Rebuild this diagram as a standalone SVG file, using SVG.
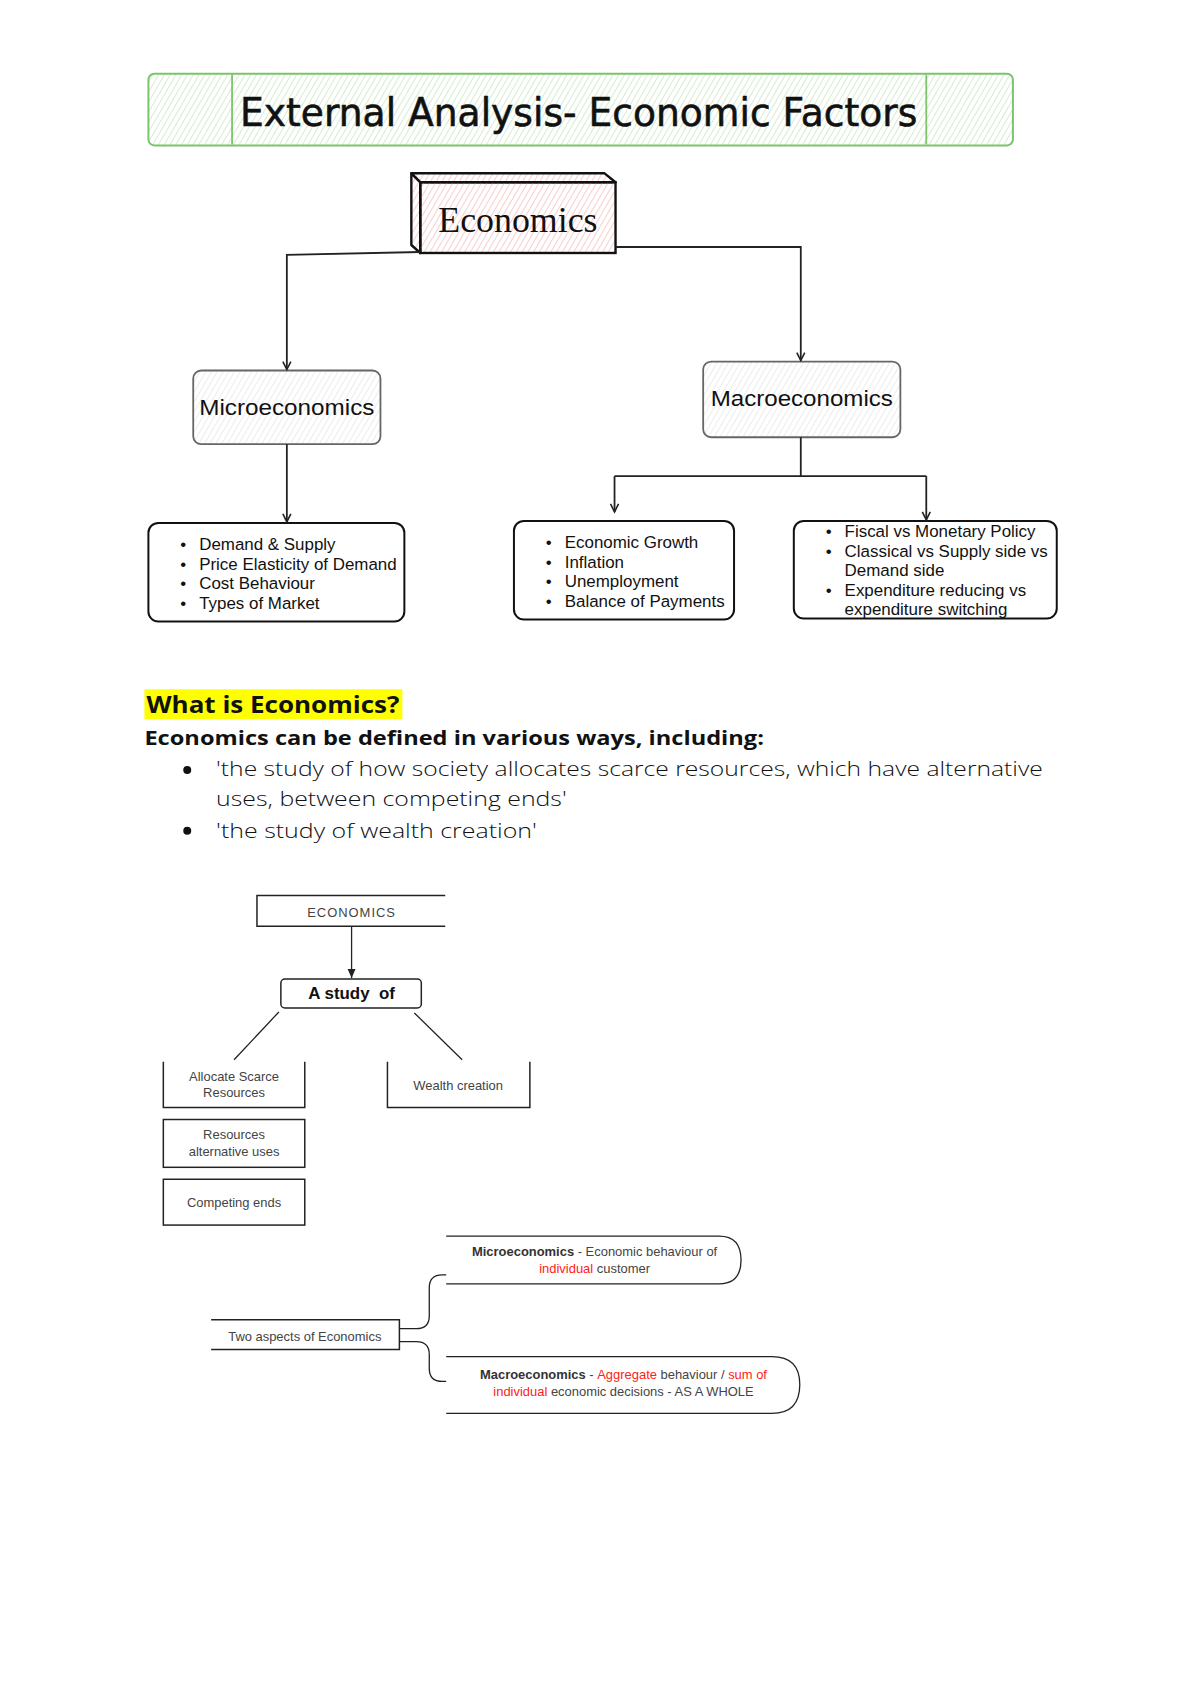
<svg xmlns="http://www.w3.org/2000/svg" width="1200" height="1694" viewBox="0 0 1200 1694">
<defs>
<pattern id="hGreen" width="5" height="5" patternUnits="userSpaceOnUse" patternTransform="rotate(30)"><line x1="0" y1="0" x2="0" y2="5" stroke="#c4e3bb" stroke-width="1.4"/></pattern>
<pattern id="hPink" width="5" height="5" patternUnits="userSpaceOnUse" patternTransform="rotate(30)"><line x1="0" y1="0" x2="0" y2="5" stroke="#f4b9b9" stroke-width="1.4"/></pattern>
<pattern id="hGrey" width="5" height="5" patternUnits="userSpaceOnUse" patternTransform="rotate(30)"><line x1="0" y1="0" x2="0" y2="5" stroke="#e0e0e0" stroke-width="1.2"/></pattern>
<marker id="arr" markerWidth="12" markerHeight="12" refX="10" refY="6" orient="auto" markerUnits="userSpaceOnUse" viewBox="0 0 12 12"><path d="M2 2 L10 6 L2 10" fill="none" stroke="#222" stroke-width="1.6"/></marker>
<marker id="arr2" markerWidth="10" markerHeight="10" refX="10" refY="5" orient="auto" markerUnits="userSpaceOnUse" viewBox="0 0 10 10"><path d="M1 1 L10 5 L1 9 Z" fill="#222"/></marker>
</defs>
<style>
.sk{font-family:"Liberation Sans",Arial,sans-serif;fill:#111}
.lst{font-family:"Liberation Sans",Arial,sans-serif;font-size:17px;fill:#111}
.con{fill:none;stroke:#222;stroke-width:1.8}
.thin{fill:none;stroke:#222;stroke-width:1.3}
.box2{fill:#fff;stroke:#222;stroke-width:1.5}
.sm{font-family:"Liberation Sans",Arial,sans-serif;font-size:13px;fill:#444;text-anchor:middle}
.mont{font-family:"Open Sans","Noto Sans",sans-serif;fill:#111}
.red{fill:#ff2020}
</style>
<rect width="1200" height="1694" fill="#fff"/>
<g transform="scale(0.996)">
<g id="title">
<rect x="149" y="74" width="868" height="72" rx="6" fill="url(#hGreen)" stroke="#7cc36c" stroke-width="2"/>
<line x1="233" y1="75" x2="233" y2="145" stroke="#7cc36c" stroke-width="1.8"/>
<line x1="930" y1="75" x2="930" y2="145" stroke="#7cc36c" stroke-width="1.8"/>
<text x="581" y="127" font-family="'DejaVu Sans',sans-serif" font-size="39" text-anchor="middle" textLength="680" lengthAdjust="spacingAndGlyphs" fill="#111" stroke="#111" stroke-width="0.6">External Analysis- Economic Factors</text>
</g>

<g id="economics">
<polygon points="413,174 607,174 618,183 422,183" fill="url(#hPink)" stroke="#111" stroke-width="2.4" stroke-linejoin="round"/>
<polygon points="413,174 422,183 422,254 413,246" fill="url(#hPink)" stroke="#111" stroke-width="2.4" stroke-linejoin="round"/>
<rect x="422" y="183" width="196" height="71" fill="url(#hPink)" stroke="#111" stroke-width="2.4"/>
<text x="520" y="233" font-family="'Liberation Serif','Times New Roman',serif" font-size="35" text-anchor="middle" textLength="160" lengthAdjust="spacingAndGlyphs" fill="#111">Economics</text>
</g>

<g id="micro">
<rect x="194" y="372" width="188" height="74" rx="8" fill="url(#hGrey)" stroke="#666" stroke-width="1.8"/>
<text x="288" y="417" class="sk" font-size="23" text-anchor="middle" textLength="176" lengthAdjust="spacingAndGlyphs">Microeconomics</text>
</g>

<g id="macro">
<rect x="706" y="363" width="198" height="76" rx="8" fill="url(#hGrey)" stroke="#666" stroke-width="1.8"/>
<text x="805" y="408" class="sk" font-size="23" text-anchor="middle" textLength="183" lengthAdjust="spacingAndGlyphs">Macroeconomics</text>
</g>

<g id="list-micro">
<rect x="149" y="525" width="257" height="99" rx="10" fill="#fff" stroke="#111" stroke-width="2"/>
<text class="lst"><tspan x="181" y="552">•</tspan><tspan x="200" y="552">Demand &amp; Supply</tspan><tspan x="181" y="572">•</tspan><tspan x="200" y="572">Price Elasticity of Demand</tspan><tspan x="181" y="591">•</tspan><tspan x="200" y="591">Cost Behaviour</tspan><tspan x="181" y="611">•</tspan><tspan x="200" y="611">Types of Market</tspan></text>
</g>

<g id="list-macro1">
<rect x="516" y="523" width="221" height="99" rx="10" fill="#fff" stroke="#111" stroke-width="2"/>
<text class="lst"><tspan x="548" y="550">•</tspan><tspan x="567" y="550">Economic Growth</tspan><tspan x="548" y="570">•</tspan><tspan x="567" y="570">Inflation</tspan><tspan x="548" y="589">•</tspan><tspan x="567" y="589">Unemployment</tspan><tspan x="548" y="609">•</tspan><tspan x="567" y="609">Balance of Payments</tspan></text>
</g>

<g id="list-macro2">
<rect x="797" y="523" width="264" height="98" rx="10" fill="#fff" stroke="#111" stroke-width="2"/>
<text class="lst"><tspan x="829" y="539">•</tspan><tspan x="848" y="539">Fiscal vs Monetary Policy</tspan><tspan x="829" y="559">•</tspan><tspan x="848" y="559">Classical vs Supply side vs</tspan><tspan x="848" y="578">Demand side</tspan><tspan x="829" y="598">•</tspan><tspan x="848" y="598">Expenditure reducing vs</tspan><tspan x="848" y="617">expenditure switching</tspan></text>
</g>

<g id="connectors">
<path class="con" d="M422 253 L288 256 L288 371" marker-end="url(#arr)"/>
<path class="con" d="M618 248 L804 248 L804 362" marker-end="url(#arr)"/>
<path class="con" d="M288 446 L288 524" marker-end="url(#arr)"/>
<path class="con" d="M804 439 L804 478"/>
<path class="con" d="M617 478 L930 478"/>
<path class="con" d="M617 478 L617 514" marker-end="url(#arr)"/>
<path class="con" d="M930 478 L930 522" marker-end="url(#arr)"/>
<path class="thin" d="M353 930 L353 982" marker-end="url(#arr2)"/>
<path class="thin" d="M280 1016 L235 1064"/>
<path class="thin" d="M416 1017 L464 1064"/>
<path class="thin" d="M401 1334 L418 1334 Q431 1334 431 1321 L431 1293 Q431 1280 444 1280 L448 1280"/>
<path class="thin" d="M401 1347 L418 1347 Q431 1347 431 1360 L431 1374 Q431 1387 444 1387 L448 1387"/>
</g>

<g id="text-section">
<rect x="145" y="692" width="259" height="30" fill="#ffff00"/>
<text x="147" y="716" class="mont" font-size="23" font-weight="bold" textLength="254" lengthAdjust="spacingAndGlyphs">What is Economics?</text>
<text x="145" y="748" class="mont" font-size="20" font-weight="bold" textLength="622" lengthAdjust="spacingAndGlyphs">Economics can be defined in various ways, including:</text>
<circle cx="188" cy="773" r="4" fill="#111"/>
<text x="217" y="779" class="mont" font-size="21" font-weight="300" textLength="830" lengthAdjust="spacingAndGlyphs">'the study of how society allocates scarce resources, which have alternative</text>
<text x="217" y="809" class="mont" font-size="21" font-weight="300" textLength="352" lengthAdjust="spacingAndGlyphs">uses, between competing ends'</text>
<circle cx="188" cy="834" r="4" fill="#111"/>
<text x="217" y="841" class="mont" font-size="21" font-weight="300" textLength="322" lengthAdjust="spacingAndGlyphs">'the study of wealth creation'</text>
</g>

<g id="economics2">
<path class="box2" d="M447 899 L258 899 L258 930 L447 930" fill="#fff"/>
<text x="353" y="921" class="sm" font-size="14" letter-spacing="1" fill="#333">ECONOMICS</text>
</g>

<g id="study">
<rect x="282" y="983" width="141" height="29" rx="4" class="box2"/>
<text x="353" y="1003" class="sk" font-size="17" font-weight="bold" text-anchor="middle" fill="#222" xml:space="preserve">A study  of</text>
</g>

<g id="allocate">
<path class="box2" d="M164 1066 L164 1112 L306 1112 L306 1066"/>
<text class="sm"><tspan x="235" y="1085">Allocate Scarce</tspan><tspan x="235" y="1101">Resources</tspan></text>
</g>

<g id="wealth">
<path class="box2" d="M389 1066 L389 1112 L532 1112 L532 1066"/>
<text x="460" y="1094" class="sm">Wealth creation</text>
</g>

<g id="resources">
<rect x="164" y="1124" width="142" height="48" class="box2"/>
<text class="sm"><tspan x="235" y="1144">Resources</tspan><tspan x="235" y="1161">alternative uses</tspan></text>
</g>

<g id="competing">
<rect x="164" y="1184" width="142" height="46" class="box2"/>
<text x="235" y="1212" class="sm">Competing ends</text>
</g>

<g id="two-aspects">
<path class="box2" d="M212 1325 L401 1325 L401 1355 L212 1355"/>
<text x="306" y="1346" class="sm" fill="#222">Two aspects of Economics</text>
</g>

<g id="micro2">
<path class="thin" d="M448 1241 L722 1241 Q744 1241 744 1265 Q744 1289 722 1289 L448 1289"/>
<text class="sm"><tspan x="597" y="1261"><tspan font-weight="bold" fill="#333">Microeconomics</tspan> - Economic behaviour of</tspan><tspan x="597" y="1278"><tspan class="red">individual</tspan> customer</tspan></text>
</g>

<g id="macro2">
<path class="thin" d="M448 1362 L775 1362 Q803 1362 803 1390 Q803 1419 775 1419 L448 1419"/>
<text class="sm"><tspan x="626" y="1385"><tspan font-weight="bold" fill="#333">Macroeconomics</tspan> - <tspan class="red">Aggregate</tspan> behaviour / <tspan class="red">sum of</tspan></tspan><tspan x="626" y="1402"><tspan class="red">individual</tspan> economic decisions - AS A WHOLE</tspan></text>
</g>
</g>
</svg>
